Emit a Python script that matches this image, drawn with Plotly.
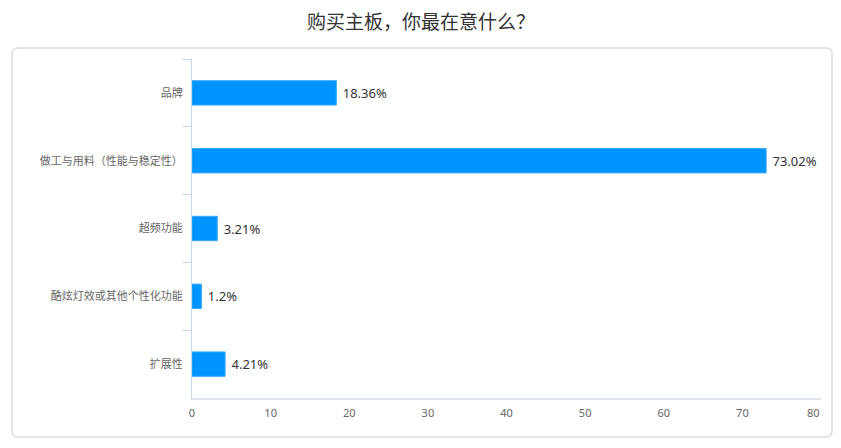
import plotly.graph_objects as go

categories = ["品牌", "做工与用料（性能与稳定性）", "超频功能", "酷炫灯效或其他个性化功能", "扩展性"]
values = [18.36, 73.02, 3.21, 1.2, 4.21]
labels = ["18.36%", "73.02%", "3.21%", "1.2%", "4.21%"]
xticks = [0, 10, 20, 30, 40, 50, 60, 70, 80]

# page body has an 8px margin, so the figure is drawn from (8, 8)
OFF = 8
W, H = 841 - OFF, 448 - OFF
L, R, T, B = 192 - OFF, 821 - OFF, 59 - OFF, 398 - OFF

fig = go.Figure(go.Bar(
    x=values, y=categories, orientation="h",
    marker=dict(color="#0094ff", line=dict(color="#3aa9ff", width=1)),
    text=labels, texttemplate=" %{text}", textposition="outside", cliponaxis=False,
    textfont=dict(size=13, color="#333333", family="Noto Sans, Noto Sans CJK SC"),
    width=0.36,
))

def P(x, y):
    px = (x - OFF - L) / (R - L)
    py = (B - (y - OFF)) / (B - T)
    return f"{px:.5f},{py:.5f}"

# rounded card (page pixel coordinates)
x0, y0, x1, y1, r = 12, 48, 832, 437, 6
path = (f"M {P(x0+r,y0)} L {P(x1-r,y0)} Q {P(x1,y0)} {P(x1,y0+r)} "
        f"L {P(x1,y1-r)} Q {P(x1,y1)} {P(x1-r,y1)} L {P(x0+r,y1)} "
        f"Q {P(x0,y1)} {P(x0,y1-r)} L {P(x0,y0+r)} Q {P(x0,y0)} {P(x0+r,y0)} Z")

tickfont = dict(size=11, color="#666666", family="Noto Sans")

fig.update_layout(
    width=W, height=H,
    margin=dict(l=L, r=W - R, t=T, b=H - B, autoexpand=False),
    paper_bgcolor="white", plot_bgcolor="white",
    title=dict(text="购买主板，你最在意什么？", x=(421 - OFF) / W, xref="container", xanchor="center",
               y=1 - (22 - OFF) / H, yanchor="middle", yref="container",
               font=dict(size=19, color="#333333", family="Noto Sans CJK SC")),
    showlegend=False,
    shapes=[dict(type="path", path=path, xref="paper", yref="paper",
                 line=dict(color="#dcdcdc", width=1.5), fillcolor="rgba(0,0,0,0)", layer="below")],
    annotations=[dict(text=str(xticks[-1]), x=xticks[-1], xref="x", y=0, yref="paper",
                      xanchor="right", yanchor="top", yshift=-5, xshift=1, showarrow=False,
                      font=tickfont)],
    xaxis=dict(range=[xticks[0], xticks[-1]], tickvals=xticks[:-1], showgrid=False, zeroline=False,
               showline=True, linecolor="#dfe4ec", linewidth=1.5,
               ticks="", tickfont=tickfont, fixedrange=True, ticklabelstandoff=4),
    yaxis=dict(autorange="reversed", type="category", showgrid=False, zeroline=False,
               showline=True, linecolor="#ccd6eb", linewidth=1,
               ticks="outside", ticklen=9, tickcolor="#ccd6eb", tickson="boundaries",
               tickfont=dict(size=11, color="#666666", family="Noto Sans CJK SC"),
               ticklabelstandoff=6),
)

fig.write_html("out.html")
